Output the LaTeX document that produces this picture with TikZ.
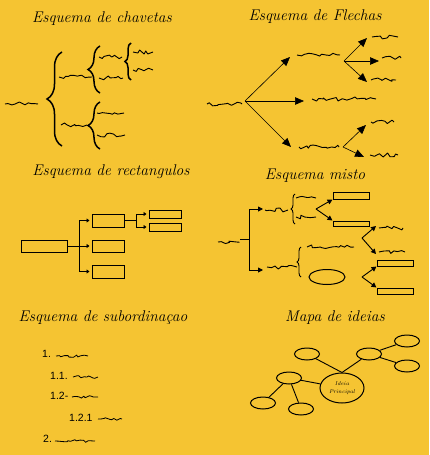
\documentclass[tikz,border=0pt]{standalone}
\usepackage{fontspec}
\newfontfamily\numfont{Liberation Sans}
\usetikzlibrary{decorations.pathmorphing,decorations.pathreplacing,arrows.meta,shapes.geometric}
\definecolor{bg}{RGB}{245,196,50}
\begin{document}
\begin{tikzpicture}[x=1pt,y=-1pt,
  title/.style={font=\itshape\fontsize{15.5}{15.5}\selectfont, inner sep=0},
  sq/.style={decorate, decoration={random steps, segment length=3.2pt, amplitude=2pt}, line width=0.9pt, line join=round},
  sqs/.style={decorate, decoration={random steps, segment length=2.8pt, amplitude=1.4pt}, line width=0.8pt},
  bigbrace/.style={decorate, decoration={brace, amplitude=#1}, line width=1.5pt},
  thinbrace/.style={decorate, decoration={brace, amplitude=#1}, line width=0.9pt},
  bigarr/.style={-{Triangle[length=9pt,width=7.5pt]}, line width=0.6pt},
  midarr/.style={-{Triangle[length=5pt,width=5pt]}, line width=0.9pt},
  smallarr/.style={-{Triangle[length=3pt,width=4pt]}, line width=1pt, shorten >=2pt},
  box/.style={draw, line width=1pt, inner sep=0, minimum width=32pt},
  ell/.style={draw, ellipse, line width=1pt, inner sep=0, minimum width=25pt, minimum height=12pt},
  num/.style={font=\numfont\fontsize{10.5}{11}\selectfont, inner sep=0, anchor=west}]
\pgfmathsetseed{7}
\fill[bg] (0,0) rectangle (429,455);
\useasboundingbox (0,0) rectangle (429,455);

% ---------------- Esquema de chavetas ----------------
\node[title] (t1) at (102,19) {Esquema de chavetas};
\draw[sq] (5,104) -- (38,104);
\draw[bigbrace=15] (62,146) -- (62,52);
\draw[sq] (59,77) -- (92,77);
\draw[bigbrace=12] (100,93) -- (100,46);
\draw[sq] (99,57) -- (122,57);
\draw[sq] (99,78) -- (123,78);
\draw[bigbrace=6] (131,80) -- (131,43);
\draw[sq] (133,52) -- (153,52);
\draw[sq] (133,70) -- (153,70);
\draw[sq] (61,125) -- (87,125);
\draw[bigbrace=12] (100,149) -- (100,102);
\draw[sq] (97,113) -- (124,113);
\draw[sq] (97,135) -- (125,135);

% ---------------- Esquema de Flechas ----------------
\node[title] (t2) at (315,17) {Esquema de Flechas};
\draw[sq] (207,104) -- (242,104);
\coordinate (f0) at (245,101);
\coordinate (fa) at (290,57);
\coordinate (fb) at (304,101);
\coordinate (fc) at (291,147);
\draw[bigarr] (f0) -- (fa);
\draw[bigarr] (f0) -- (fb);
\draw[bigarr] (f0) -- (fc);
\draw[sq] (297,55) -- (340,55);
\coordinate (f1) at (344,61);
\coordinate (fd) at (367,38);
\coordinate (fe) at (379,61);
\coordinate (ff) at (367,82);
\draw[bigarr] (f1) -- (fd);
\draw[bigarr] (f1) -- (fe);
\draw[bigarr] (f1) -- (ff);
\draw[sq] (372,37) -- (398,37);
\draw[sq] (382,58) -- (401,58);
\draw[sq] (371,80) -- (396,80);
\draw[sq] (312,99) -- (376,99);
\draw[sq] (299,147) -- (339,147);
\coordinate (f2) at (343,147);
\coordinate (fg) at (366,125);
\coordinate (fh) at (364,157);
\draw[bigarr] (f2) -- (fg);
\draw[bigarr] (f2) -- (fh);
\draw[sq] (371,122) -- (394,122);
\draw[sq] (370,155) -- (398,155);

% ---------------- Esquema de rectangulos ----------------
\node[title] (t3) at (111,172) {Esquema de rectangulos};
\node[box, minimum width=46pt, minimum height=12pt] (m) at (44,246) {};
\node[box, minimum height=13pt] (r1) at (108,220.5) {};
\node[box, minimum height=12pt] (r2) at (108,246) {};
\node[box, minimum height=13pt] (r3) at (108,271.5) {};
\node[box, minimum height=8pt] (r4) at (165,214) {};
\node[box, minimum height=8pt] (r5) at (165,227) {};
\coordinate (tk) at (79,246);
\draw[line width=1pt] (m.east) -- (tk);
\draw[smallarr] (tk) |- (r1.west);
\draw[smallarr] (tk) -- (r2.west);
\draw[smallarr] (tk) |- (r3.west);
\coordinate (tk2) at (136,220.5);
\draw[line width=1pt] (r1.east) -- (tk2);
\draw[smallarr] (tk2) |- (r4.west);
\draw[smallarr] (tk2) |- (r5.west);

% ---------------- Esquema misto ----------------
\node[title] (t4) at (315,176) {Esquema misto};
\draw[sq] (218,242) -- (239,242);
\coordinate (k0) at (249,239);
\coordinate (ka) at (263,209);
\coordinate (kb) at (263,270);
\draw[line width=0.9pt] (240,239) -- (k0);
\draw[midarr] (k0) |- (ka);
\draw[midarr] (k0) |- (kb);
\draw[sq] (265,210) -- (288,210);
\draw[thinbrace=4] (295,224) -- (295,194);
\draw[sq] (296,198) -- (316,198);
\draw[sq] (296,217) -- (316,217);
\node[box, minimum width=36pt, minimum height=7pt] (q1) at (351,195.5) {};
\node[box, minimum width=36pt, minimum height=5pt] (q2) at (351,223.5) {};
\coordinate (k1) at (316,209);
\draw[midarr] (k1) -- (q1.south west);
\draw[midarr] (k1) -- (q2.north west);
\draw[sq] (267,267) -- (297,267);
\draw[thinbrace=4] (301,277) -- (301,247);
\draw[sq] (307,247) -- (354,247);
\node[ell, minimum width=36pt, minimum height=15pt] (oe) at (327,277) {};
\coordinate (k2) at (362,238);
\coordinate (kc) at (376,226);
\coordinate (kd) at (376,254);
\draw[midarr] (k2) -- (kc);
\draw[midarr] (k2) -- (kd);
\draw[sq] (379,228) -- (403,228);
\draw[sq] (379,252) -- (405,252);
\node[box, minimum width=36pt, minimum height=6pt] (q3) at (395,263) {};
\node[box, minimum width=36pt, minimum height=6pt] (q4) at (395,291) {};
\coordinate (k3) at (362,277);
\draw[midarr] (k3) -- (q3.south west);
\draw[midarr] (k3) -- (q4.north west);

% ---------------- Esquema de subordinacao ----------------
\node[title] (t5) at (103,318) {Esquema de subordinaçao};
\node[num] (n1) at (42,354) {1.};
\draw[sqs] (56,356) -- (88,356);
\node[num] (n2) at (50,376) {1.1.};
\draw[sqs] (73,377) -- (98,377);
\node[num] (n3) at (50,396) {1.2-};
\draw[sqs] (72,397) -- (98,397);
\node[num] (n4) at (69,418) {1.2.1};
\draw[sqs] (98,419) -- (122,419);
\node[num] (n5) at (43,439) {2.};
\draw[sqs] (55,441) -- (95,441);

% ---------------- Mapa de ideias ----------------
\node[title] (t6) at (335,318) {Mapa de ideias};
\node[ell, minimum width=44pt, minimum height=30pt] (c) at (342,388) {};
\node[font=\itshape\fontsize{5.5}{8}\selectfont, align=center, inner sep=0] (ct) at (c) {Ideia\\Principal};
\node[ell] (tl) at (307,354) {};
\node[ell] (tr) at (369,354) {};
\node[ell] (fr1) at (407,341) {};
\node[ell] (fr2) at (407,366) {};
\node[ell] (lh) at (289,378) {};
\node[ell] (bl) at (263,403) {};
\node[ell] (bm) at (301,409) {};
\draw[line width=0.9pt] (tl) -- (c.north);
\draw[line width=0.9pt] (tr) -- (c.north);
\draw[line width=0.9pt] (tr) -- (fr1);
\draw[line width=0.9pt] (tr) -- (fr2);
\draw[line width=0.9pt] (lh) -- (c);
\draw[line width=0.9pt] (lh) -- (bl);
\draw[line width=0.9pt] (lh) -- (bm);
\end{tikzpicture}
\end{document}
